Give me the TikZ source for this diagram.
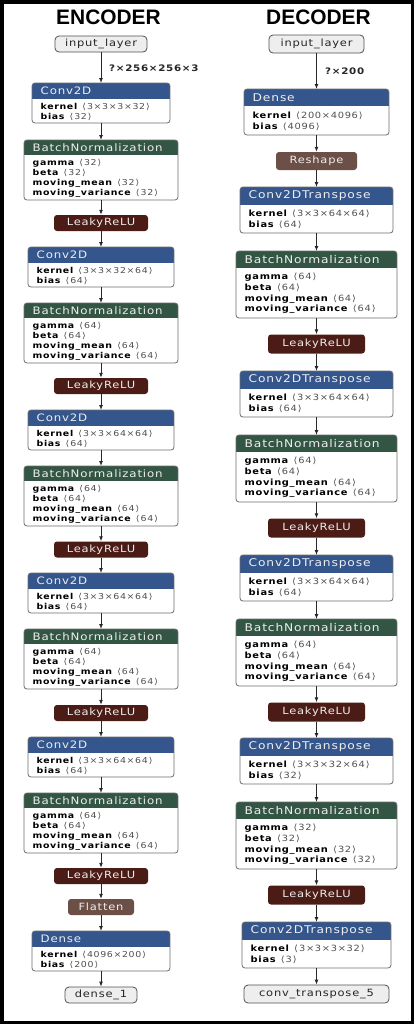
\documentclass[tikz,border=0pt]{standalone}
\usepackage{fontspec}
\setmainfont{DejaVu Sans}[FakeStretch=1.15,LetterSpace=8]
\newfontfamily\titlefont{Liberation Sans}
\usetikzlibrary{arrows.meta}
\definecolor{convc}{RGB}{52,86,140}
\definecolor{bnc}{RGB}{51,85,68}
\definecolor{actc}{RGB}{75,27,22}
\definecolor{shpc}{RGB}{108,79,71}
\definecolor{ioc}{RGB}{238,238,238}
\definecolor{iob}{RGB}{80,80,80}
\definecolor{framec}{RGB}{110,110,110}
\definecolor{headc}{RGB}{238,238,238}
\definecolor{valc}{RGB}{80,80,80}
\definecolor{arrc}{RGB}{40,40,40}
\newcommand\kv[2]{\textbf{#1}\hspace{4.5bp}{\color{valc}⟨\hspace{1bp}#2\hspace{1bp}⟩}}
% name, xl, xr, ytop, yhead, ybottom, colour, title, body
\newcommand\lay[9]{%
  \node[boxnode, minimum width={(#3-#2)*1bp}, minimum height={(#6-#4)*1bp}] (#1) at ({(#2+#3)/2},{(#4+#6)/2}) {};
  \begin{scope}
    \clip[rounded corners=3bp] (#1.north west) rectangle (#1.south east);
    \fill[#7] (#1.north west) rectangle (#3,#5);
  \end{scope}
  \draw[frame] (#1.north west) rectangle (#1.south east);
  \node[head, anchor=west] (#1-h) at ({#2+8.5},{(#4+#5)/2}) {#8};
  \node[body, anchor=west] (#1-b) at ({#2+8.5},{(#5+#6)/2+0.5}) {#9};
}
\begin{document}
\begin{tikzpicture}[x=1bp,y=-1bp,
  boxnode/.style={rectangle, inner sep=0, outer sep=0, draw=none},
  frame/.style={draw=framec, line width=0.8bp, rounded corners=3bp},
  headE/.style={inner sep=0, text=headc, font=\fontsize{10.3}{12}\selectfont},
  headD/.style={inner sep=0, text=headc, font=\fontsize{10.7}{12}\selectfont},
  bodyE/.style={inner sep=0, align=left, font=\fontsize{8.2}{10}\selectfont},
  bodyD/.style={inner sep=0, align=left, font=\fontsize{8.6}{10.7}\selectfont},
  act/.style={rectangle, rounded corners=3bp, fill=actc, text=headc, inner sep=0, font=\fontsize{10}{12}\selectfont},
  shp/.style={rectangle, rounded corners=3bp, fill=shpc, text=headc, inner sep=0, font=\fontsize{10}{12}\selectfont},
  io/.style={rectangle, rounded corners=4bp, fill=ioc, draw=iob, line width=0.8bp, inner sep=0, text=black!85, font=\fontsize{10}{12}\selectfont},
  arr/.style={draw=arrc, line width=0.9bp, -{Latex[length=5bp,width=4bp]}},
  elab/.style={inner sep=0, text=black!85, font=\bfseries\fontsize{9}{11}\selectfont},
  ttl/.style={inner sep=0, font=\titlefont\bfseries\fontsize{21}{24}\selectfont}
]
\useasboundingbox (0,0) rectangle (414,1024);
\fill[white] (0,0) rectangle (414,1024);
\draw[line width=3.5bp] (1.75,1.75) rectangle (412.25,1022.25);

\node[ttl] (tenc) at (108.5,17) {ENCODER};
\node[ttl] (tdec) at (318.5,17) {DECODER};

% ---------------- ENCODER ----------------
\begin{scope}[head/.style={headE}, body/.style={bodyE}]
\node[io, minimum width=92bp, minimum height=16bp] (ein) at (101,44) {input\_layer};
\lay{ec1}{32}{170}{83}{99}{123}{convc}{Conv2D}{\kv{kernel}{3×3×3×32}\\\kv{bias}{32}}
\lay{eb1}{24}{178}{140}{155}{200}{bnc}{BatchNormalization}{\kv{gamma}{32}\\\kv{beta}{32}\\\kv{moving\_mean}{32}\\\kv{moving\_variance}{32}}
\node[act, minimum width=94bp, minimum height=16bp] (ea1) at (101,223) {LeakyReLU};
\lay{ec2}{28}{174}{247}{263}{287}{convc}{Conv2D}{\kv{kernel}{3×3×32×64}\\\kv{bias}{64}}
\lay{eb2}{24}{178}{303}{318}{363}{bnc}{BatchNormalization}{\kv{gamma}{64}\\\kv{beta}{64}\\\kv{moving\_mean}{64}\\\kv{moving\_variance}{64}}
\node[act, minimum width=94bp, minimum height=16bp] (ea2) at (101,386) {LeakyReLU};
\lay{ec3}{28}{174}{410}{426}{450}{convc}{Conv2D}{\kv{kernel}{3×3×64×64}\\\kv{bias}{64}}
\lay{eb3}{24}{178}{466}{481}{526}{bnc}{BatchNormalization}{\kv{gamma}{64}\\\kv{beta}{64}\\\kv{moving\_mean}{64}\\\kv{moving\_variance}{64}}
\node[act, minimum width=94bp, minimum height=16bp] (ea3) at (101,549.5) {LeakyReLU};
\lay{ec4}{28}{174}{573}{589}{613}{convc}{Conv2D}{\kv{kernel}{3×3×64×64}\\\kv{bias}{64}}
\lay{eb4}{24}{178}{629}{644}{689}{bnc}{BatchNormalization}{\kv{gamma}{64}\\\kv{beta}{64}\\\kv{moving\_mean}{64}\\\kv{moving\_variance}{64}}
\node[act, minimum width=94bp, minimum height=16bp] (ea4) at (101,713) {LeakyReLU};
\lay{ec5}{28}{174}{737}{753}{777}{convc}{Conv2D}{\kv{kernel}{3×3×64×64}\\\kv{bias}{64}}
\lay{eb5}{24}{178}{793}{808}{853}{bnc}{BatchNormalization}{\kv{gamma}{64}\\\kv{beta}{64}\\\kv{moving\_mean}{64}\\\kv{moving\_variance}{64}}
\node[act, minimum width=94bp, minimum height=16bp] (ea5) at (101,876) {LeakyReLU};
\node[shp, minimum width=66bp, minimum height=16bp] (efl) at (101,907) {Flatten};
\lay{ede}{32}{170}{931}{947}{971}{convc}{Dense}{\kv{kernel}{4096×200}\\\kv{bias}{200}}
\node[io, minimum width=72bp, minimum height=16bp] (eout) at (101,995) {dense\_1};
\end{scope}

\draw[arr] (ein) -- (ec1);
\node[elab, anchor=west] (elab1) at (109,68) {?×256×256×3};
\draw[arr] (ec1) -- (eb1);
\draw[arr] (eb1) -- (ea1);
\draw[arr] (ea1) -- (ec2);
\draw[arr] (ec2) -- (eb2);
\draw[arr] (eb2) -- (ea2);
\draw[arr] (ea2) -- (ec3);
\draw[arr] (ec3) -- (eb3);
\draw[arr] (eb3) -- (ea3);
\draw[arr] (ea3) -- (ec4);
\draw[arr] (ec4) -- (eb4);
\draw[arr] (eb4) -- (ea4);
\draw[arr] (ea4) -- (ec5);
\draw[arr] (ec5) -- (eb5);
\draw[arr] (eb5) -- (ea5);
\draw[arr] (ea5) -- (efl);
\draw[arr] (efl) -- (ede);
\draw[arr] (ede) -- (eout);

% ---------------- DECODER ----------------
\begin{scope}[head/.style={headD}, body/.style={bodyD}]
\node[io, minimum width=95bp, minimum height=18bp] (din) at (316.5,44) {input\_layer};
\lay{dde}{244}{389}{89}{106}{135}{convc}{Dense}{\kv{kernel}{200×4096}\\\kv{bias}{4096}}
\node[shp, minimum width=81bp, minimum height=18bp] (drs) at (316.5,161) {Reshape};
\lay{dt1}{240}{393}{187}{205}{233}{convc}{Conv2DTranspose}{\kv{kernel}{3×3×64×64}\\\kv{bias}{64}}
\lay{db1}{236}{397}{251}{268}{318}{bnc}{BatchNormalization}{\kv{gamma}{64}\\\kv{beta}{64}\\\kv{moving\_mean}{64}\\\kv{moving\_variance}{64}}
\node[act, minimum width=97bp, minimum height=19bp] (da1) at (316.5,344) {LeakyReLU};
\lay{dt2}{240}{393}{371}{389}{417}{convc}{Conv2DTranspose}{\kv{kernel}{3×3×64×64}\\\kv{bias}{64}}
\lay{db2}{236}{397}{435}{452}{502}{bnc}{BatchNormalization}{\kv{gamma}{64}\\\kv{beta}{64}\\\kv{moving\_mean}{64}\\\kv{moving\_variance}{64}}
\node[act, minimum width=97bp, minimum height=19bp] (da2) at (316.5,528) {LeakyReLU};
\lay{dt3}{240}{393}{555}{573}{601}{convc}{Conv2DTranspose}{\kv{kernel}{3×3×64×64}\\\kv{bias}{64}}
\lay{db3}{236}{397}{619}{636}{686}{bnc}{BatchNormalization}{\kv{gamma}{64}\\\kv{beta}{64}\\\kv{moving\_mean}{64}\\\kv{moving\_variance}{64}}
\node[act, minimum width=97bp, minimum height=19bp] (da3) at (316.5,712) {LeakyReLU};
\lay{dt4}{240}{393}{738}{756}{784}{convc}{Conv2DTranspose}{\kv{kernel}{3×3×32×64}\\\kv{bias}{32}}
\lay{db4}{236}{397}{802}{819}{869}{bnc}{BatchNormalization}{\kv{gamma}{32}\\\kv{beta}{32}\\\kv{moving\_mean}{32}\\\kv{moving\_variance}{32}}
\node[act, minimum width=97bp, minimum height=19bp] (da4) at (316.5,895) {LeakyReLU};
\lay{dt5}{242}{391}{922}{940}{968}{convc}{Conv2DTranspose}{\kv{kernel}{3×3×3×32}\\\kv{bias}{3}}
\node[io, minimum width=145bp, minimum height=18bp] (dout) at (316.5,994) {conv\_transpose\_5};
\end{scope}

\draw[arr] (din) -- (dde);
\node[elab, anchor=west] (dlab1) at (325,71) {?×200};
\draw[arr] (dde) -- (drs);
\draw[arr] (drs) -- (dt1);
\draw[arr] (dt1) -- (db1);
\draw[arr] (db1) -- (da1);
\draw[arr] (da1) -- (dt2);
\draw[arr] (dt2) -- (db2);
\draw[arr] (db2) -- (da2);
\draw[arr] (da2) -- (dt3);
\draw[arr] (dt3) -- (db3);
\draw[arr] (db3) -- (da3);
\draw[arr] (da3) -- (dt4);
\draw[arr] (dt4) -- (db4);
\draw[arr] (db4) -- (da4);
\draw[arr] (da4) -- (dt5);
\draw[arr] (dt5) -- (dout);
\end{tikzpicture}
\end{document}
